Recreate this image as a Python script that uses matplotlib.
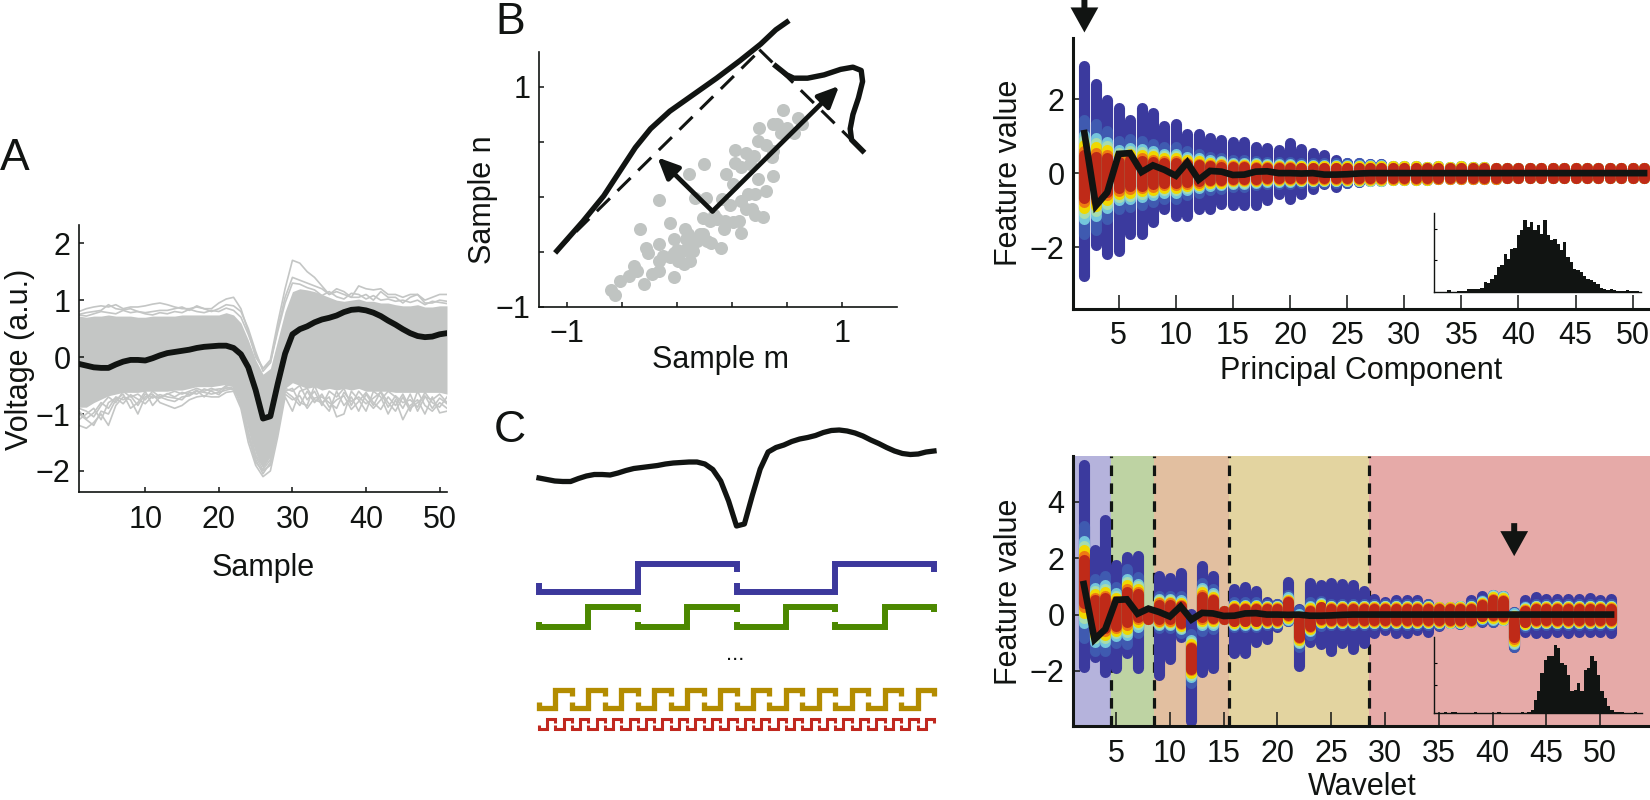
import numpy as np
import matplotlib
matplotlib.use('Agg')
import matplotlib.pyplot as plt

plt.rcParams['font.family'] = ['Liberation Sans', 'DejaVu Sans']

W, H = 1650, 800

# Panel A: mean waveform and the grey bundle around it
samples = np.arange(1, 52)
mean_wave = [-0.12, -0.15, -0.18, -0.19, -0.19, -0.13, -0.08, -0.05, -0.05, -0.06, -0.02, 0.03, 0.07,
             0.09, 0.11, 0.13, 0.16, 0.18, 0.19, 0.20, 0.20, 0.16, 0.05, -0.18, -0.58, -1.08, -1.04,
             -0.47, 0.06, 0.40, 0.49, 0.54, 0.61, 0.66, 0.69, 0.73, 0.79, 0.83, 0.84, 0.82, 0.78, 0.72,
             0.64, 0.57, 0.49, 0.42, 0.37, 0.35, 0.36, 0.40, 0.42]
bundle_upper = [.72, .7, .72, .72, .74, .72, .72, .72, .7, .7, .72, .72, .72, .72, .74, .74, .74, .74, .74, .74,
                .78, .74, .6, .3, -.05, -.3, -.2, .3, .8, 1.15, 1.2, 1.18, 1.15, 1.1, 1.05, 1.0, .98, 1.0, 1.02,
                .98, .98, .95, .95, .92, .9, .9, .92, .88, .88, .9, .9]
bundle_lower = [-.88, -.88, -.8, -.74, -.68, -.65, -.62, -.62, -.62, -.6, -.6, -.6, -.6, -.58, -.58, -.55, -.52,
                -.52, -.52, -.5, -.48, -.5, -.75, -1.25, -1.7, -1.95, -1.75, -1.15, -.55, -.45, -.5, -.55, -.52,
                -.58, -.55, -.58, -.55, -.58, -.55, -.6, -.6, -.6, -.6, -.62, -.62, -.62, -.62, -.62, -.62, -.62, -.65]
outlier_traces = [
    [.8, .85, .88, .9, .88, .92, .85, .88, .88, .9, .93, .95, .92, .88, .85, .85, .88, .85, .85, .95, 1.02, 1.05,
     .85, .45, .0, -.2, -.05, .6, 1.2, 1.7, 1.65, 1.5, 1.4, 1.25, 1.1, 1.15, 1.1, 1.05, 1.25, 1.2, 1.18, 1.2, 1.1,
     1.1, 1.05, 1.1, 1.1, 1.0, 1.05, 1.1, 1.1],
    [.75, .78, .8, .82, .92, .85, .83, .85, .8, .78, .8, .82, .82, .85, .88, .82, .9, .85, .8, .85, .92, .9, .8, .5,
     .1, -.25, -.1, .5, 1.05, 1.4, 1.35, 1.3, 1.25, 1.2, 1.1, 1.2, 1.15, 1.05, 1.05, 1.1, 1.0, 1.15, 1.05, 1.05,
     .95, 1.05, 1.1, .95, .95, 1.0, .98],
    [.74, .72, .76, .8, .78, .76, .82, .78, .8, .76, .74, .78, .76, .8, .78, .84, .8, .78, .82, .8, .86, .82, .7, .4,
     .05, -.2, -.1, .45, .95, 1.3, 1.28, 1.22, 1.18, 1.08, 1.15, 1.06, 1.02, 1.12, 1.1, 1.02, 1.08, 1.0, 1.02, .98,
     1.0, .96, 1.0, .92, .98, .96, .94],
    [-1.2, -1.25, -1.15, -1.0, -1.2, -.85, -.7, -.75, -1.0, -.7, -.65, -.8, -.85, -.9, -.85, -.75, -.7, -.68, -.7,
     -.7, -.62, -.6, -.9, -1.5, -1.9, -2.1, -2.0, -1.4, -.7, -.95, -.6, -.55, -.75, -.8, -.7, -1.05, -1.0, -.6, -.75,
     -.95, -.6, -.7, -1.0, -.75, -1.1, -.85, -.75, -1.0, -.7, -.98, -.95],
    [-1.0, -1.1, -1.2, -.95, -1.0, -.75, -.65, -.9, -.8, -.6, -.85, -.7, -.75, -.78, -.7, -.68, -.6, -.62, -.65,
     -.62, -.58, -.55, -.8, -1.4, -1.85, -2.0, -1.9, -1.3, -.6, -.55, -.8, -.85, -.5, -.8, -.95, -.6, -.85, -.7,
     -.95, -.65, -.85, -.6, -.8, -.95, -.7, -.95, -.6, -.85, -.95, -.8, -.9],
    [-.9, -.95, -1.05, -.85, -.7, -.8, -.6, -.7, -.65, -.75, -.6, -.7, -.65, -.6, -.65, -.6, -.55, -.6, -.55, -.6,
     -.5, -.5, -.75, -1.3, -1.8, -2.05, -1.85, -1.2, -.55, -.6, -.5, -.75, -.6, -.85, -.6, -.7, -.55, -.85, -.6,
     -.75, -.9, -.75, -.6, -.7, -.9, -.65, -.95, -.7, -.75, -.65, -.8],
    [-1.1, -1.0, -.9, -1.1, -.8, -.72, -.82, -.66, -.74, -.82, -.68, -.72, -.64, -.7, -.62, -.66, -.58, -.7, -.58,
     -.56, -.55, -.52, -.85, -1.35, -1.75, -1.98, -1.8, -1.25, -.6, -.7, -.85, -.6, -.8, -.65, -.88, -.75, -.68,
     -.92, -.78, -.62, -.8, -.92, -.7, -.85, -.65, -.9, -.8, -.68, -.9, -.72, -.82],
    [-.95, -1.08, -.98, -.8, -.9, -.7, -.75, -.68, -.85, -.65, -.72, -.66, -.7, -.72, -.75, -.62, -.65, -.56, -.6,
     -.66, -.52, -.58, -.7, -1.2, -1.72, -1.92, -1.7, -1.2, -.65, -.75, -.68, -.9, -.72, -.7, -.8, -.9, -.62, -.78,
     -.7, -.82, -.72, -.62, -.88, -.68, -.8, -.75, -.88, -.62, -.8, -.88, -.7],
]

# Panel B: scatter of two samples
scatter_m = [-.68, -.65, -.61, -.55, -.51, -.49, -.44, -.38, -.33, -.22, -.42, -.41, -.33, -.47, -.33, -.30, -.25,
             -.22, -.25, -.14, -.13, -.20, -.18, -.14, -.10, -.05, -.01, .02, .05, .12, .27, .14, .21, -.01, .04,
             .09, .15, .25, .07, .19, .13, -.07, .01, -.33, -.11, 0, .16, .21, .22, .22, .27, .30, .36, .33, .39,
             .45, .50, .49, .39, .50, .45, .37, .32, .27, .35, .30, .43, .37, .40, .50, .53, .57, .60, .56, .65,
             .68, .71, -.19, -.15, -.10, -.22, -.08, -.03, -.12]
scatter_n = [-.85, -.89, -.76, -.72, -.63, -.67, -.79, -.70, -.67, -.73, -.46, -.51, -.43, -.29, -.58, -.54, -.55,
             -.38, -.24, -.29, -.38, -.48, -.52, -.48, -.45, -.40, -.34, -.40, -.42, -.46, -.33, -.29, -.23, -.19,
             -.22, -.20, -.22, -.22, -.16, -.07, -.02, -.01, -.01, -.03, .21, .30, .21, .12, .31, .43, .27, .40,
             .37, .30, .51, .47, .42, .36, .16, .19, .05, .03, .03, -.04, -.11, -.11, -.18, -.16, .63, .66, .66,
             .79, .63, .58, .58, .72, .66, -.58, -.61, -.58, -.51, -.49, -.34, -.34]
marginal_long_m = [-1.07, -.88, -.73, -.61, -.50, -.39, -.25, -.08, .09, .26, .41, .52, .60]
marginal_long_n = [-.49, -.22, .01, .24, .45, .62, .78, .93, 1.08, 1.24, 1.39, 1.52, 1.59]
marginal_short_m = [.52, .60, .65, .75, .87, .99, 1.08, 1.14, 1.15, 1.12, 1.08, 1.06, 1.07, 1.15]
marginal_short_n = [1.19, 1.11, 1.08, 1.08, 1.11, 1.16, 1.18, 1.15, 1.05, .90, .75, .62, .52, .42]
axis_long_m, axis_long_n = [-1.08, .41], [-.50, 1.34]
axis_short_m, axis_short_n = [.40, 1.15], [1.34, .42]
pc_origin = (.06, -.13)
pc_first = (.98, 1.01)
pc_second = (-.34, .36)

# Panel C: the wavelets
wavelet_periods = [2, 4, 12, 24]
wavelet_low = [-2.40, -3.10, -4.72, -5.14]
wavelet_high = [-1.84, -2.70, -4.36, -4.94]
wavelet_stub_low = [-2.22, -3.00, -4.60, -5.06]
wavelet_stub_high = [-2.00, -2.80, -4.48, -5.02]
wavelet_colors = ['#3c389c', '#4c8800', '#b38c00', '#c0281f']
wavelet_widths = [4.3, 4.3, 3.8, 2.2]

# Panels D and E: feature columns, features 2 to 51
features = np.arange(2, 52)
mean_feature = [1.08, -.88, -.52, .52, .54, .03, .21, .09, -.07, .29, -.18, .06, .04, -.05, -.04, .04, .05, 0, 0,
                -.01, 0, -.04, -.04, -.03, -.01] + [0] * 25

pc_top = [3.04, 2.54, 2.12, 1.89, 1.58, 1.89, 1.76, 1.41, 1.47, 1.19, 1.19, 1.08, 1.05, .99, .99, .84, .81, .76, .95,
          .79, .70, .63, .50, .43, .43, .38, .40, .34, .34, .33, .32, .33, .30, .33, .30, .30, .29, .29, .29, .29,
          .28, .28, .28, .28, .28, .28, .28, .28, .28, .28]
pc_bottom = [-2.93, -2.09, -2.34, -2.25, -1.78, -1.80, -1.47, -1.10, -1.29, -1.29, -1.11, -1.11, -.99, -1.01, -1.01,
             -1.01, -.88, -.72, -.84, -.72, -.56, -.45, -.51, -.41, -.38, -.36, -.36, -.34, -.33, -.32, -.32, -.31,
             -.30, -.31, -.29, -.29, -.29, -.28, -.28, -.28, -.28, -.28, -.28, -.28, -.28, -.28, -.28, -.28, -.28,
             -.28]
pc_center = [-.1, -.1, -.05, -.05] + [0] * 46
pc_core = [.72, .68, .6, .5, .5, .48, .45, .42, .42, .38, .36, .33, .32, .3, .3, .29, .28, .28, .28, .27] + [.27] * 30
pc_ticks = [5, 10, 15, 20, 25, 30, 35, 40, 45, 50]

wav_top = [5.48, 2.46, 3.53, 1.95, 2.22, 2.25, .33, 1.54, 1.48, 1.67, .21, 1.90, 1.57, .33, 1.10, 1.16, 1.04, .65,
           .57, 1.34, .39, 1.31, 1.24, 1.31, 1.28, 1.22, 1.04, .75, .63, .71, .72, .69, .57, .45, .45, .49, .69, .86,
           .89, .84, .27, .69, .80, .75, .75, .75, .75, .78, .69, .75]
wav_bottom = [-2.04, -1.68, -2.21, -2.07, -1.54, -2.07, -.36, -2.33, -1.76, -1.0, -3.96, -2.24, -2.07, -.36, -1.56,
              -1.54, -1.17, -1.05, -.64, -.41, -2.01, -1.17, -1.24, -1.48, -1.21, -1.42, -1.21, -.83, -.73, -.85,
              -.83, -.73, -.82, -.58, -.50, -.53, -.46, -.46, -.46, -.38, -1.33, -.79, -.85, -.85, -.82, -.85, -.82,
              -.82, -.82, -.85]
wav_center = [1.16, 0, .04, 0, .27, .33, 0, .09, .09, 0, -1.56, .27, .2, 0, 0, 0, 0, 0, 0, .21, -.5, -.14, .04] \
    + [0] * 14 + [.15, .25, .21, -.5, -.06] + [0] * 8
wav_core = [.95, .7, .72, .6, .72, .6, .33, .45, .45, .48, .55, .55, .5, .35, .4, .4, .4, .38, .38, .42, .48, .45, .4] \
    + [.38] * 15 + [.45, .45, .5, .38] + [.38] * 8
wav_ticks = [5, 10, 15, 20, 25, 30, 35, 40, 45, 50]
group_edges = [1, 4.5, 8.5, 15.5, 28.5, 54.62]
group_colors = ['#b5b3dc', '#bed3a3', '#e2bfa0', '#e3d4a0', '#e6aaa8']

# Histogram insets, counts per bin
pc_hist = [0, 1, 1, 5, 1, 1, 2, 3, 4, 8, 10, 10, 8, 13, 30, 28, 38, 50, 75, 80, 115, 100, 130, 132, 170, 185, 215, 195,
           210, 185, 200, 175, 215, 170, 155, 160, 145, 125, 150, 105, 90, 70, 65, 60, 48, 38, 35, 30, 25, 12, 10, 5,
           10, 5, 3, 3, 2, 6, 2, 2, 2]
wav_hist = [0, 1, 2, 1, 3, 2, 1, 1, 1, 1, 1, 3, 1, 1, 1, 1, 1, 1, 2, 1, 1, 1, 1, 1, 1, 3, 1, 3, 8, 40, 65, 120, 160,
            170, 172, 205, 195, 150, 145, 115, 65, 70, 90, 65, 130, 135, 170, 155, 115, 65, 45, 20, 8, 4, 3, 2, 1, 1,
            1, 3, 1]

BLACK = '#111412'
GREY = '#c4c6c5'


def px_axes(left, top, right, bottom):
    ax = fig.add_axes([left / W, 1 - bottom / H, (right - left) / W, (bottom - top) / H])
    ax.patch.set_alpha(0)
    for side in ['top', 'right']:
        ax.spines[side].set_visible(False)
    return ax


def style_axis(ax, width, xlen, ylen, xpad=9, ypad=6):
    for side in ['left', 'bottom']:
        ax.spines[side].set_linewidth(width)
        ax.spines[side].set_color(BLACK)
    ax.tick_params(axis='x', direction='in', length=xlen, width=1.1, labelsize=22, pad=xpad, colors=BLACK)
    ax.tick_params(axis='y', direction='in', length=ylen, width=1.1, labelsize=22, pad=ypad, colors=BLACK)


def label(x, y, text, rotation=0, size=22):
    fig.text(x / W, 1 - y / H, text, ha='center', va='center', rotation=rotation, fontsize=size, color=BLACK)


def draw_columns(ax, tops, bottoms, centers, cores, cap, base):
    bands = [(2.8, .8, '#3f5ab0'), (2.0, .55, '#74c6dc'), (1.75, .42, '#a6dcae'), (1.5, .3, '#f0d800'),
             (1.2, .12, '#ee7a12'), (1.0, 0, '#bf2a18')]
    for x, top, bottom, c, r in zip(features, tops, bottoms, centers, cores):
        ax.plot([x, x], [bottom + cap, top - cap], color='#3b3a9e', lw=8, solid_capstyle='round', zorder=2)
        for m, d, color in bands:
            h = base + (r - base) * m + d * cap
            hi = min(c + h, top) - cap
            lo = max(c - h, bottom) + cap
            if hi < lo:
                hi = lo = (hi + lo) / 2
            ax.plot([x, x], [lo, hi], color=color, lw=8, solid_capstyle='round', zorder=2)


def inset_hist(left, top, right, bottom, counts, ymax, yticks):
    ins = px_axes(left, top, right, bottom)
    ins.bar(np.arange(len(counts)), counts, width=1.0, color=BLACK, align='edge')
    ins.set_xlim(-1, len(counts) + 0.5)
    ins.set_ylim(0, ymax)
    ins.set_xticks([])
    ins.set_yticks(yticks)
    ins.set_yticklabels([])
    ins.tick_params(axis='y', direction='in', length=2.5, width=0.8)
    for side in ['left', 'bottom']:
        ins.spines[side].set_linewidth(1.0)
        ins.spines[side].set_color(BLACK)
    return ins


fig = plt.figure(figsize=(W / 100, H / 100), dpi=100)

# Panel A
ax_a = px_axes(79, 225, 447, 492)
ax_a.fill_between(samples, bundle_lower, bundle_upper, color=GREY, lw=0)
for trace in outlier_traces:
    ax_a.plot(samples, trace, color=GREY, lw=1.2)
ax_a.plot(samples, mean_wave, color=BLACK, lw=4.2, solid_joinstyle='round')
ax_a.set_xlim(1, 51)
ax_a.set_ylim(-2.37, 2.32)
ax_a.set_xticks([10, 20, 30, 40, 50])
ax_a.set_xticklabels(['10', '20', '30', '40', '50'])
ax_a.set_yticks([-2, -1, 0, 1, 2])
ax_a.set_yticklabels(['\u22122', '\u22121', '0', '1', '2'])
style_axis(ax_a, 1.2, 3.5, 3.5)
label(263, 568, 'Sample')
label(20, 359, 'Voltage (a.u.)', rotation=90)
label(15, 158, 'A', size=32)

# Panel B
ax_b = px_axes(539, 52, 897, 307)
ax_b.scatter(scatter_m, scatter_n, s=88, color='#c0c4c2', lw=0, clip_on=False, zorder=2)
ax_b.plot(marginal_long_m, marginal_long_n, color=BLACK, lw=3.9, clip_on=False, zorder=3)
ax_b.plot(marginal_short_m, marginal_short_n, color=BLACK, lw=3.9, clip_on=False, zorder=3)
ax_b.plot(axis_long_m, axis_long_n, color=BLACK, lw=2.2, dashes=(6, 3.5), clip_on=False, zorder=3)
ax_b.plot(axis_short_m, axis_short_n, color=BLACK, lw=2.2, dashes=(6, 3.5), clip_on=False, zorder=3)
for tip in [pc_first, pc_second]:
    ax_b.annotate('', xy=tip, xytext=pc_origin, zorder=4,
                  arrowprops=dict(arrowstyle='-|>,head_length=0.7,head_width=0.32', color=BLACK, lw=3.4,
                                  shrinkA=0, shrinkB=0, mutation_scale=18))
ax_b.set_xlim(-1.2, 1.4)
ax_b.set_ylim(-1, 1.318)
ax_b.set_xticks([-1, -.6, -.2, .2, .6, 1])
ax_b.set_xticklabels(['\u22121', '', '', '', '', '1'])
ax_b.set_yticks([-1, -.5, 0, .5, 1])
ax_b.set_yticklabels(['\u22121', '', '', '', '1'])
style_axis(ax_b, 1.2, 3.5, 3.5)
label(720, 360, 'Sample m')
label(483, 200, 'Sample n', rotation=90)
label(510, 23, 'B', size=32)

# Panel C
ax_c = px_axes(539, 420, 934, 740)
ax_c.axis('off')
ax_c.plot(samples, mean_wave, color=BLACK, lw=3.8, clip_on=False)
for periods, low, high, stub_low, stub_high, color, lw in zip(wavelet_periods, wavelet_low, wavelet_high,
                                                              wavelet_stub_low, wavelet_stub_high, wavelet_colors,
                                                              wavelet_widths):
    step = 50 / periods
    for k in range(periods):
        x0 = 1 + k * step
        xs = [x0, x0, x0 + step / 2, x0 + step / 2, x0 + step, x0 + step]
        ys = [stub_low, low, low, high, high, stub_high]
        ax_c.plot(xs, ys, color=color, lw=lw, solid_joinstyle='miter', solid_capstyle='butt', clip_on=False)
ax_c.set_xlim(1, 51)
ax_c.set_ylim(-5.36, 1.04)
label(735, 654, '...', size=16)
label(510, 431, 'C', size=32)

# Panel D
ax_d = px_axes(1073, 38, 1650, 309)
draw_columns(ax_d, pc_top, pc_bottom, pc_center, pc_core, 0.143, 0.25)
ax_d.plot(features, mean_feature, color=BLACK, lw=4.8, solid_joinstyle='miter', solid_capstyle='projecting',
          zorder=3)
ax_d.set_xlim(1, 51.52)
ax_d.set_ylim(-3.67, 3.65)
ax_d.set_xticks(pc_ticks)
ax_d.set_yticks([-2, 0, 2])
ax_d.set_yticklabels(['\u22122', '0', '2'])
style_axis(ax_d, 2.2, 10, 5)
ax_d.annotate('', xy=(2, 3.8), xytext=(2, 4.68), annotation_clip=False,
              arrowprops=dict(width=4.3, headwidth=20, headlength=18, facecolor=BLACK, edgecolor=BLACK, lw=0,
                              shrink=0))
label(1009, 173, 'Feature value', rotation=90)
label(1361, 371, 'Principal Component')
inset_hist(1434, 213, 1641, 292, pc_hist, 237, [95, 190])

# Panel E
ax_e = px_axes(1073, 456, 1650, 726)
for k, color in enumerate(group_colors):
    ax_e.axvspan(group_edges[k], group_edges[k + 1], color=color, lw=0, zorder=0)
for edge in group_edges[1:5]:
    ax_e.axvline(edge, color=BLACK, lw=2.3, dashes=(3.3, 2.3), zorder=1)
draw_columns(ax_e, wav_top, wav_bottom, wav_center, wav_core, 0.188, 0.36)
ax_e.plot(features, mean_feature, color=BLACK, lw=4.8, solid_joinstyle='miter', solid_capstyle='projecting',
          zorder=3)
ax_e.set_xlim(1, 54.62)
ax_e.set_ylim(-3.95, 5.62)
ax_e.set_xticks(wav_ticks)
ax_e.set_yticks([-2, 0, 2, 4])
ax_e.set_yticklabels(['\u22122', '0', '2', '4'])
style_axis(ax_e, 2.2, 10, 5)
ax_e.annotate('', xy=(42, 2.07), xytext=(42, 3.24), zorder=4,
              arrowprops=dict(width=4.3, headwidth=20, headlength=18, facecolor=BLACK, edgecolor=BLACK, lw=0,
                              shrink=0))
label(1009, 592, 'Feature value', rotation=90)
label(1362, 787, 'Wavelet')
inset_hist(1434, 637, 1642, 713, wav_hist, 228, [85, 150])

fig.savefig('out.png', dpi=100)
